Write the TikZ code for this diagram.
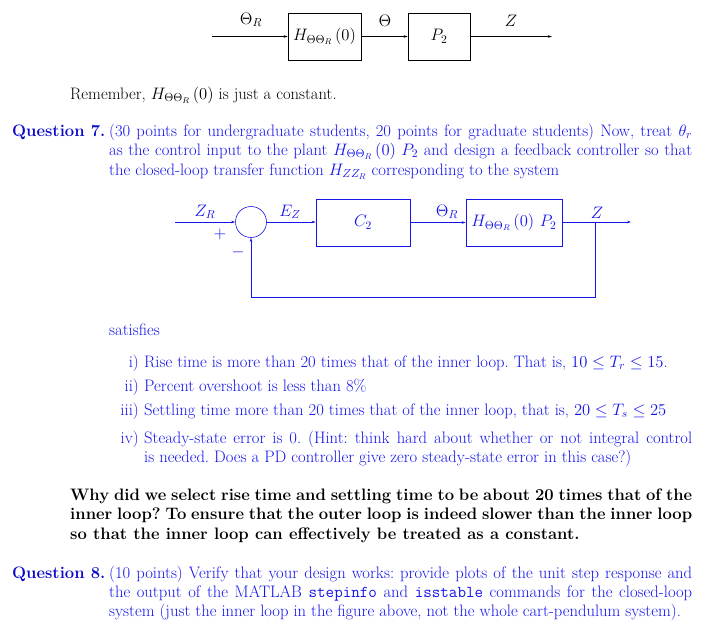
\documentclass[tikz,border=0pt]{standalone}
\usepackage{fix-cm}
\usetikzlibrary{arrows.meta}
\definecolor{qb}{RGB}{20,20,235}
\definecolor{qd}{RGB}{10,10,200}
\newcommand{\Hz}{H_{\Theta\Theta_R}\left(0\right)}
\frenchspacing
\begin{document}
\begin{tikzpicture}[x=1pt,y=-1pt,
  blk/.style={draw,line width=0.6pt,minimum height=47pt,inner sep=0pt,font=\fontsize{16.6}{19}\selectfont},
  sig/.style={line width=0.6pt,-{Stealth[length=4pt,width=2.5pt]}},
  ln/.style={anchor=base west,inner sep=0pt,font=\fontsize{16.6}{19}\selectfont},
  lbl/.style={inner sep=0pt,font=\fontsize{16.6}{19}\selectfont}]
\useasboundingbox (0,0) rectangle (721,621);
% top diagram
\node[blk,minimum width=73pt] (b1) at (324.5,36.5) {$\Hz$};
\node[blk,minimum width=62pt] (b2) at (439,36.5) {$P_2$};
\coordinate (in1) at (212,36.5);
\coordinate (out1) at (552,36.5);
\draw[sig] (in1) -- (b1);
\draw[sig] (b1) -- (b2);
\draw[sig] (b2) -- (out1);
\node[lbl] (l1) at (251,20) {$\Theta_R$};
\node[lbl] (l2) at (385,21) {$\Theta$};
\node[lbl] (l3) at (511,21) {$Z$};
\node[ln] (rem) at (70,99) {Remember, $\Hz$ is just a constant.};
% question 7
\begin{scope}[qb]
\node[ln,text=qd] (q7) at (12,136) {\bfseries Question 7.};
\node[ln] (q7a) at (109,136) {\makebox[583pt][s]{(30 points for undergraduate students, 20 points for graduate students) Now, treat $\theta_r$}};
\node[ln] (q7b) at (109,155) {\makebox[583pt][s]{as the control input to the plant $\Hz\,P_2$ and design a feedback controller so that}};
\node[ln] (q7c) at (109,175) {the closed-loop transfer function $H_{ZZ_R}$ corresponding to the system};
% loop diagram
\node[draw,circle,line width=0.6pt,minimum size=31pt,inner sep=0pt] (s) at (251,222) {};
\node[blk,draw=qb,minimum width=94pt] (c2) at (363,222.5) {$C_2$};
\node[blk,draw=qb,minimum width=96pt] (hp) at (514,222.5) {$\Hz\,P_2$};
\coordinate (in2) at (175,222);
\coordinate (out2) at (631,222);
\coordinate (tap) at (595,222);
\coordinate (fb) at (595,297);
\draw[sig] (in2) -- (s);
\draw[sig] (s) -- (s-|c2.west);
\draw[sig] (c2) -- (hp);
\draw[sig] (hp.east|-tap) -- (out2);
\draw[sig] (tap) -- (fb) -| (s.south);
\node[lbl] (zr) at (205,212) {$Z_R$};
\node[lbl] (pl) at (220,234) {$+$};
\node[lbl] (mi) at (238,252) {$-$};
\node[lbl] (ez) at (290,212) {$E_Z$};
\node[lbl] (tr) at (447,212) {$\Theta_R$};
\node[lbl] (zz) at (597,213) {$Z$};
\node[ln] (sat) at (109,335) {satisfies};
\node[ln,anchor=base east] (i1) at (139,367) {i)};
\node[ln] (t1) at (144,367) {Rise time is more than 20 times that of the inner loop. That is, $10 \le T_r \le 15$.};
\node[ln,anchor=base east] (i2) at (139,391) {ii)};
\node[ln] (t2) at (144,391) {Percent overshoot is less than 8\%};
\node[ln,anchor=base east] (i3) at (139,415) {iii)};
\node[ln] (t3) at (144,415) {Settling time more than 20 times that of the inner loop, that is, $20 \le T_s \le 25$};
\node[ln,anchor=base east] (i4) at (139,443) {iv)};
\node[ln] (t4) at (144,443) {\makebox[548pt][s]{Steady-state error is 0. (Hint: think hard about whether or not integral control}};
\node[ln] (t4b) at (144,462) {is needed. Does a PD controller give zero steady-state error in this case?)};
\end{scope}
% bold paragraph
\node[ln,font=\fontsize{16.6}{19}\selectfont\bfseries] (bp1) at (70,500) {\makebox[622pt][s]{Why did we select rise time and settling time to be about 20 times that of the}};
\node[ln,font=\fontsize{16.6}{19}\selectfont\bfseries] (bp2) at (70,519) {\makebox[622pt][s]{inner loop? To ensure that the outer loop is indeed slower than the inner loop}};
\node[ln,font=\fontsize{16.6}{19}\selectfont\bfseries] (bp3) at (70,539) {so that the inner loop can effectively be treated as a constant.};
% question 8
\begin{scope}[qb]
\node[ln,text=qd] (q8) at (12,578) {\bfseries Question 8.};
\node[ln] (q8a) at (109,578) {\makebox[583pt][s]{(10 points) Verify that your design works: provide plots of the unit step response and}};
\node[ln] (q8b) at (109,597) {\makebox[583pt][s]{the output of the MATLAB \texttt{stepinfo} and \texttt{isstable} commands for the closed-loop}};
\node[ln] (q8c) at (109,616) {system (just the inner loop in the figure above, not the whole cart-pendulum system).};
\end{scope}
\end{tikzpicture}
\end{document}
